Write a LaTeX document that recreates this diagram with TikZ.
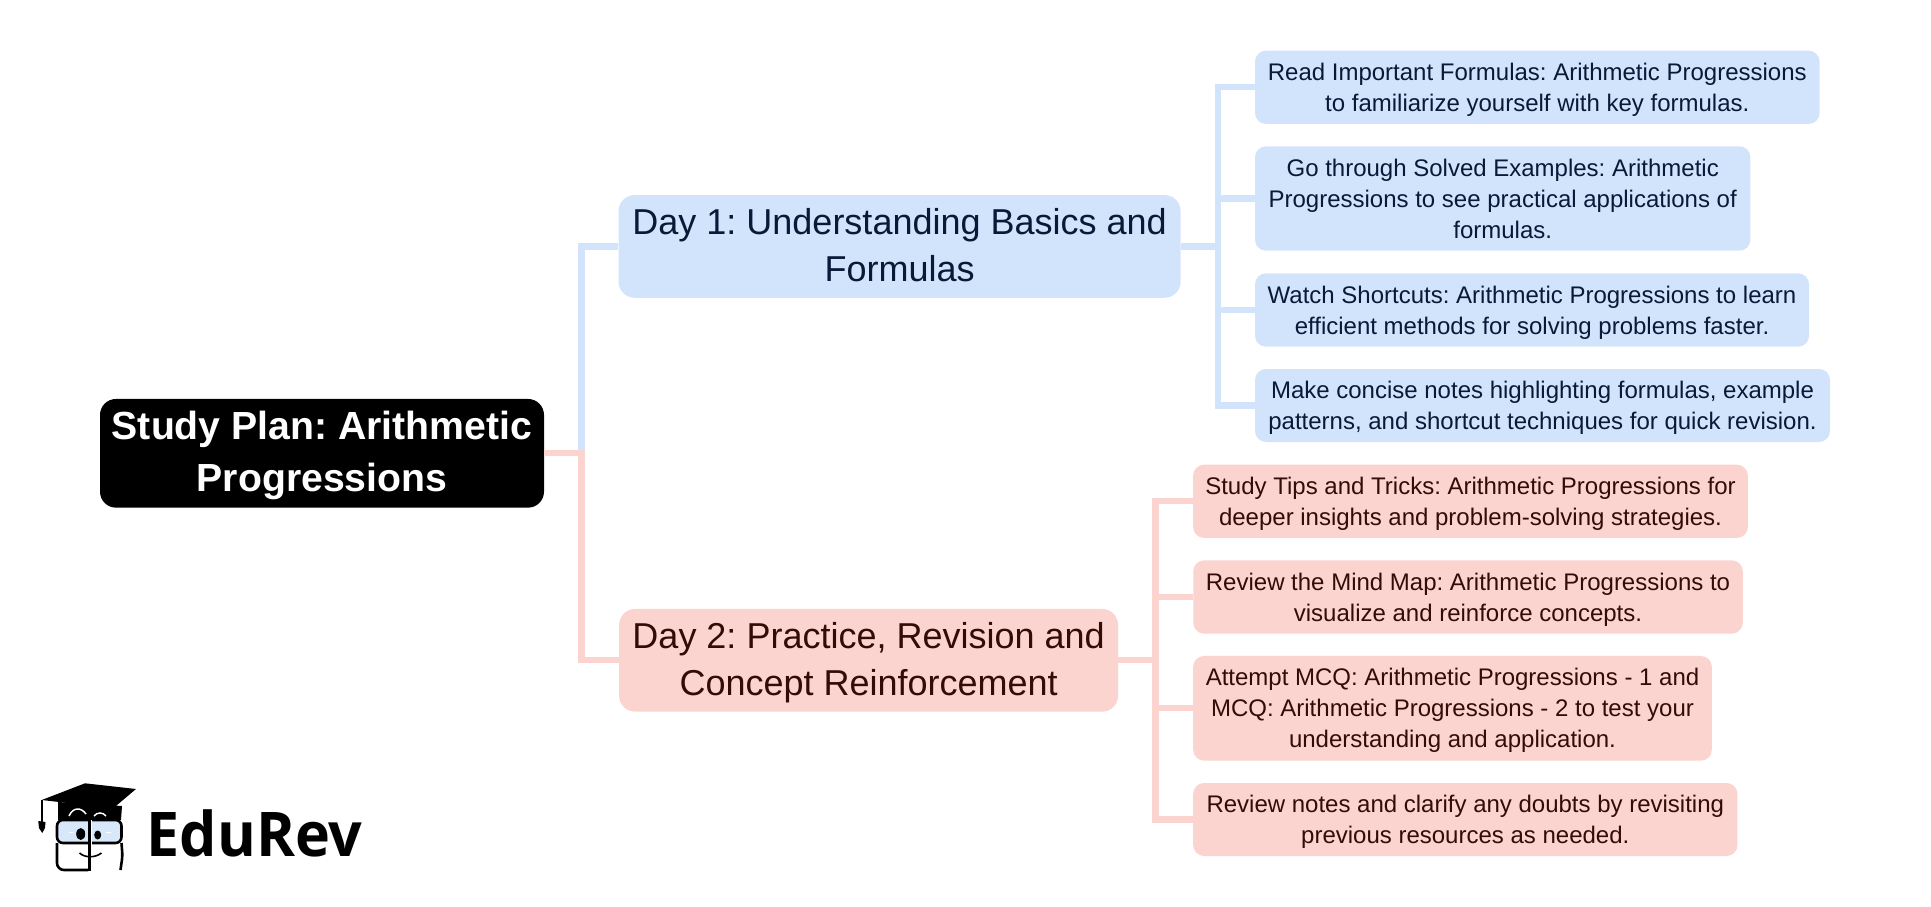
\documentclass[tikz,border=0pt]{standalone}
\usepackage{fontspec}
\setmainfont{Liberation Sans}
\newfontfamily\logofont[FakeStretch=0.96]{Open Sans}
\frenchspacing
\definecolor{bluefill}{HTML}{D2E3FC}
\definecolor{bluetext}{HTML}{071A38}
\definecolor{redfill}{HTML}{FBD3CF}
\definecolor{redtext}{HTML}{330C09}
\definecolor{lensblue}{HTML}{D6E8FA}
\newcommand{\roottext}[1]{\rule[-8pt]{0pt}{41pt}#1\rule[-8pt]{0pt}{41pt}}
\newcommand{\daytext}[1]{\rule[-6pt]{0pt}{36pt}#1\rule[-6pt]{0pt}{36pt}}
\newcommand{\leaftext}[1]{\rule[-5pt]{0pt}{27pt}#1\rule[-5pt]{0pt}{27pt}}
\tikzset{
	rootbox/.style={fill=black,text=white,rounded corners=16pt,inner sep=0pt,align=center,font=\fontsize{39.2}{51.7}\selectfont\bfseries},
	daybox/.style={rounded corners=16pt,inner sep=0pt,align=center,font=\fontsize{36}{47}\selectfont},
	leafbox/.style={rounded corners=11pt,inner sep=0pt,align=center,font=\fontsize{24}{31}\selectfont},
	bluebox/.style={fill=bluefill,text=bluetext},
	redbox/.style={fill=redfill,text=redtext},
	bluewire/.style={draw=bluefill,line width=6.2pt},
	redwire/.style={draw=redfill,line width=6.2pt},
}
\begin{document}
\begin{tikzpicture}[x=1pt,y=-1pt]
		\useasboundingbox (0,0) rectangle (1931,907);
		
		\node[rootbox,minimum width=444pt,minimum height=108.7pt] (root) at (322,453.3) {\roottext{Study Plan: Arithmetic\\Progressions}};
		\node[daybox,bluebox,minimum width=562pt,minimum height=102.7pt] (day1) at (899.6,246.4) {\daytext{Day 1: Understanding Basics and\\Formulas}};
		\node[daybox,redbox,minimum width=499pt,minimum height=102.7pt] (day2) at (868.6,660.3) {\daytext{Day 2: Practice, Revision and\\Concept Reinforcement}};
		
		\node[leafbox,bluebox,minimum width=564.6pt,minimum height=73.3pt] (blue1) at (1537.3,87.3) {\leaftext{Read Important Formulas: Arithmetic Progressions\\to familiarize yourself with key formulas.}};
		\node[leafbox,bluebox,minimum width=495.4pt,minimum height=104.4pt] (blue2) at (1502.7,198.5) {\leaftext{Go through Solved Examples: Arithmetic\\Progressions to see practical applications of\\formulas.}};
		\node[leafbox,bluebox,minimum width=554pt,minimum height=73.4pt] (blue3) at (1532,310) {\leaftext{Watch Shortcuts: Arithmetic Progressions to learn\\efficient methods for solving problems faster.}};
		\node[leafbox,bluebox,minimum width=575pt,minimum height=73pt] (blue4) at (1542.5,405.5) {\leaftext{Make concise notes highlighting formulas, example\\patterns, and shortcut techniques for quick revision.}};
		
		\node[leafbox,redbox,minimum width=554.7pt,minimum height=73.3pt] (red1) at (1470.5,501.3) {\leaftext{Study Tips and Tricks: Arithmetic Progressions for\\deeper insights and problem-solving strategies.}};
		\node[leafbox,redbox,minimum width=549.5pt,minimum height=73.4pt] (red2) at (1468,597) {\leaftext{Review the Mind Map: Arithmetic Progressions to\\visualize and reinforce concepts.}};
		\node[leafbox,redbox,minimum width=518.7pt,minimum height=104.7pt] (red3) at (1452.5,708.3) {\leaftext{Attempt MCQ: Arithmetic Progressions - 1 and\\MCQ: Arithmetic Progressions - 2 to test your\\understanding and application.}};
		\node[leafbox,redbox,minimum width=544.3pt,minimum height=73pt] (red4) at (1465.3,819.5) {\leaftext{Review notes and clarify any doubts by revisiting\\previous resources as needed.}};
		
		\coordinate (rootjoin) at (581.5,453.3);
		\coordinate (bluejoin) at (1218,246.4);
		\coordinate (redjoin) at (1155.5,660.3);
		
		\draw[bluewire] (rootjoin) |- (day1.west);
		\draw[redwire] (root.east) -- (rootjoin) |- (day2.west);
		
		\draw[bluewire] (day1.east) -- (bluejoin);
		\draw[bluewire] (bluejoin) |- (blue1.west);
		\draw[bluewire] (bluejoin) |- (blue2.west);
		\draw[bluewire] (bluejoin) |- (blue3.west);
		\draw[bluewire] (bluejoin) |- (blue4.west);
		
		\draw[redwire] (day2.east) -- (redjoin);
		\draw[redwire] (redjoin) |- (red1.west);
		\draw[redwire] (redjoin) |- (red2.west);
		\draw[redwire] (redjoin) |- (red3.west);
		\draw[redwire] (redjoin) |- (red4.west);
		
		\node[anchor=base west,inner sep=0pt,font=\fontsize{61.6}{61.6}\logofont\bfseries] (logotext) at (146.5,856.7) {EduRev};
		
		\fill (58,802) -- (58,820) -- (121,820) -- (122,806) -- cycle;
		\fill (41.7,800) -- (85,783.3) -- (136,789) -- (110,811) -- (85,805) -- cycle;
		\draw[line width=1.6pt] (41.7,800) -- (41.7,822);
		\fill (38.3,821) -- (45.5,822) -- (45,828) -- (42.3,833) -- (39,828) -- cycle;
		\draw[white,line width=1.5pt] (69,816) .. controls (73,807) and (81,807) .. (86,814);
		\draw[white,line width=1.5pt] (94,816) .. controls (97,812) and (103,812) .. (106,816);
		\draw[line width=2.6pt,fill=lensblue,rounded corners=6pt] (57,820) rectangle (121.5,843);
		\draw[line width=2.6pt,rounded corners=7pt] (88,870) -- (57,870) -- (57,843);
		\draw[line width=2.6pt,rounded corners=4pt] (121.5,843) -- (122.5,856) -- (120.5,870);
		\draw[line width=2.6pt] (89.5,818) -- (89.5,871);
		\draw[white,line width=1pt] (91.3,820) -- (91.3,871);
		\fill (80.7,834) ellipse (4.5pt and 6pt);
		\fill (97.7,835) ellipse (3.5pt and 4.5pt);
		\draw[line width=1.6pt] (79.5,853) .. controls (85,858) and (95,858) .. (101.5,853);
		\draw[white,line width=1pt] (69,832) -- (74,832);
		\draw[white,line width=1pt] (106,832) -- (111,832);
		
		\end{tikzpicture}
\end{document}
